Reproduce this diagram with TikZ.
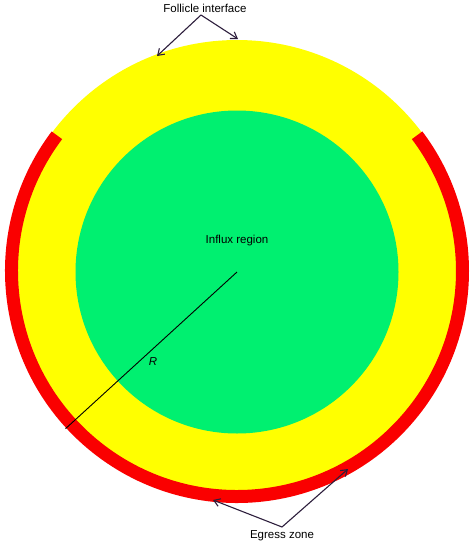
\documentclass[tikz,border=0pt]{standalone}
\usepackage{fontspec}
\setmainfont{Liberation Sans}
\usetikzlibrary{arrows.meta}
\definecolor{yel}{RGB}{255,255,0}
\definecolor{grn}{RGB}{0,240,112}
\definecolor{rd}{RGB}{250,0,0}
\definecolor{ink}{RGB}{45,30,60}
\begin{document}
\begin{tikzpicture}[x=1pt,y=-1pt,
  lbl/.style={font=\fontsize{11.5}{13}\selectfont, inner sep=0pt, text=black},
  pointer/.style={draw=ink, line width=1.1pt, -{Straight Barb[length=6pt,width=8pt]}}]
\useasboundingbox (0,0) rectangle (474,544);
\fill[white] (0,0) rectangle (474,544);
\begin{scope}[shift={(237,271)}, yscale=-1]
  \fill[yel] (0,0) circle[radius=231];
  \draw[rd, line width=13pt] (143:225.5) arc[start angle=143, end angle=397, radius=225.5];
  \fill[grn] (0,-1) circle[radius=161.5];
  \coordinate (ctr) at (0,-1);
  \coordinate (rim) at (222.6:233);
\end{scope}
\draw[black, line width=0.9pt] (ctr) -- (rim);
\node[lbl, font=\fontsize{11.5}{13}\selectfont\itshape] (rlab) at (153,362) {R};
\node[lbl] (influx) at (237,241) {Influx region};
\node[lbl] (foll) at (205,8) {Follicle interface};
\node[lbl] (egress) at (282,536) {Egress zone};
\coordinate (fapex) at (201,15);
\coordinate (ftipA) at (157,56);
\coordinate (ftipB) at (238,39);
\coordinate (eapex) at (282,527);
\coordinate (etipA) at (213,500);
\coordinate (etipB) at (348,469);
\draw[pointer] (fapex) -- (ftipA);
\draw[pointer] (fapex) -- (ftipB);
\draw[pointer] (eapex) -- (etipA);
\draw[pointer] (eapex) -- (etipB);
\end{tikzpicture}
\end{document}
